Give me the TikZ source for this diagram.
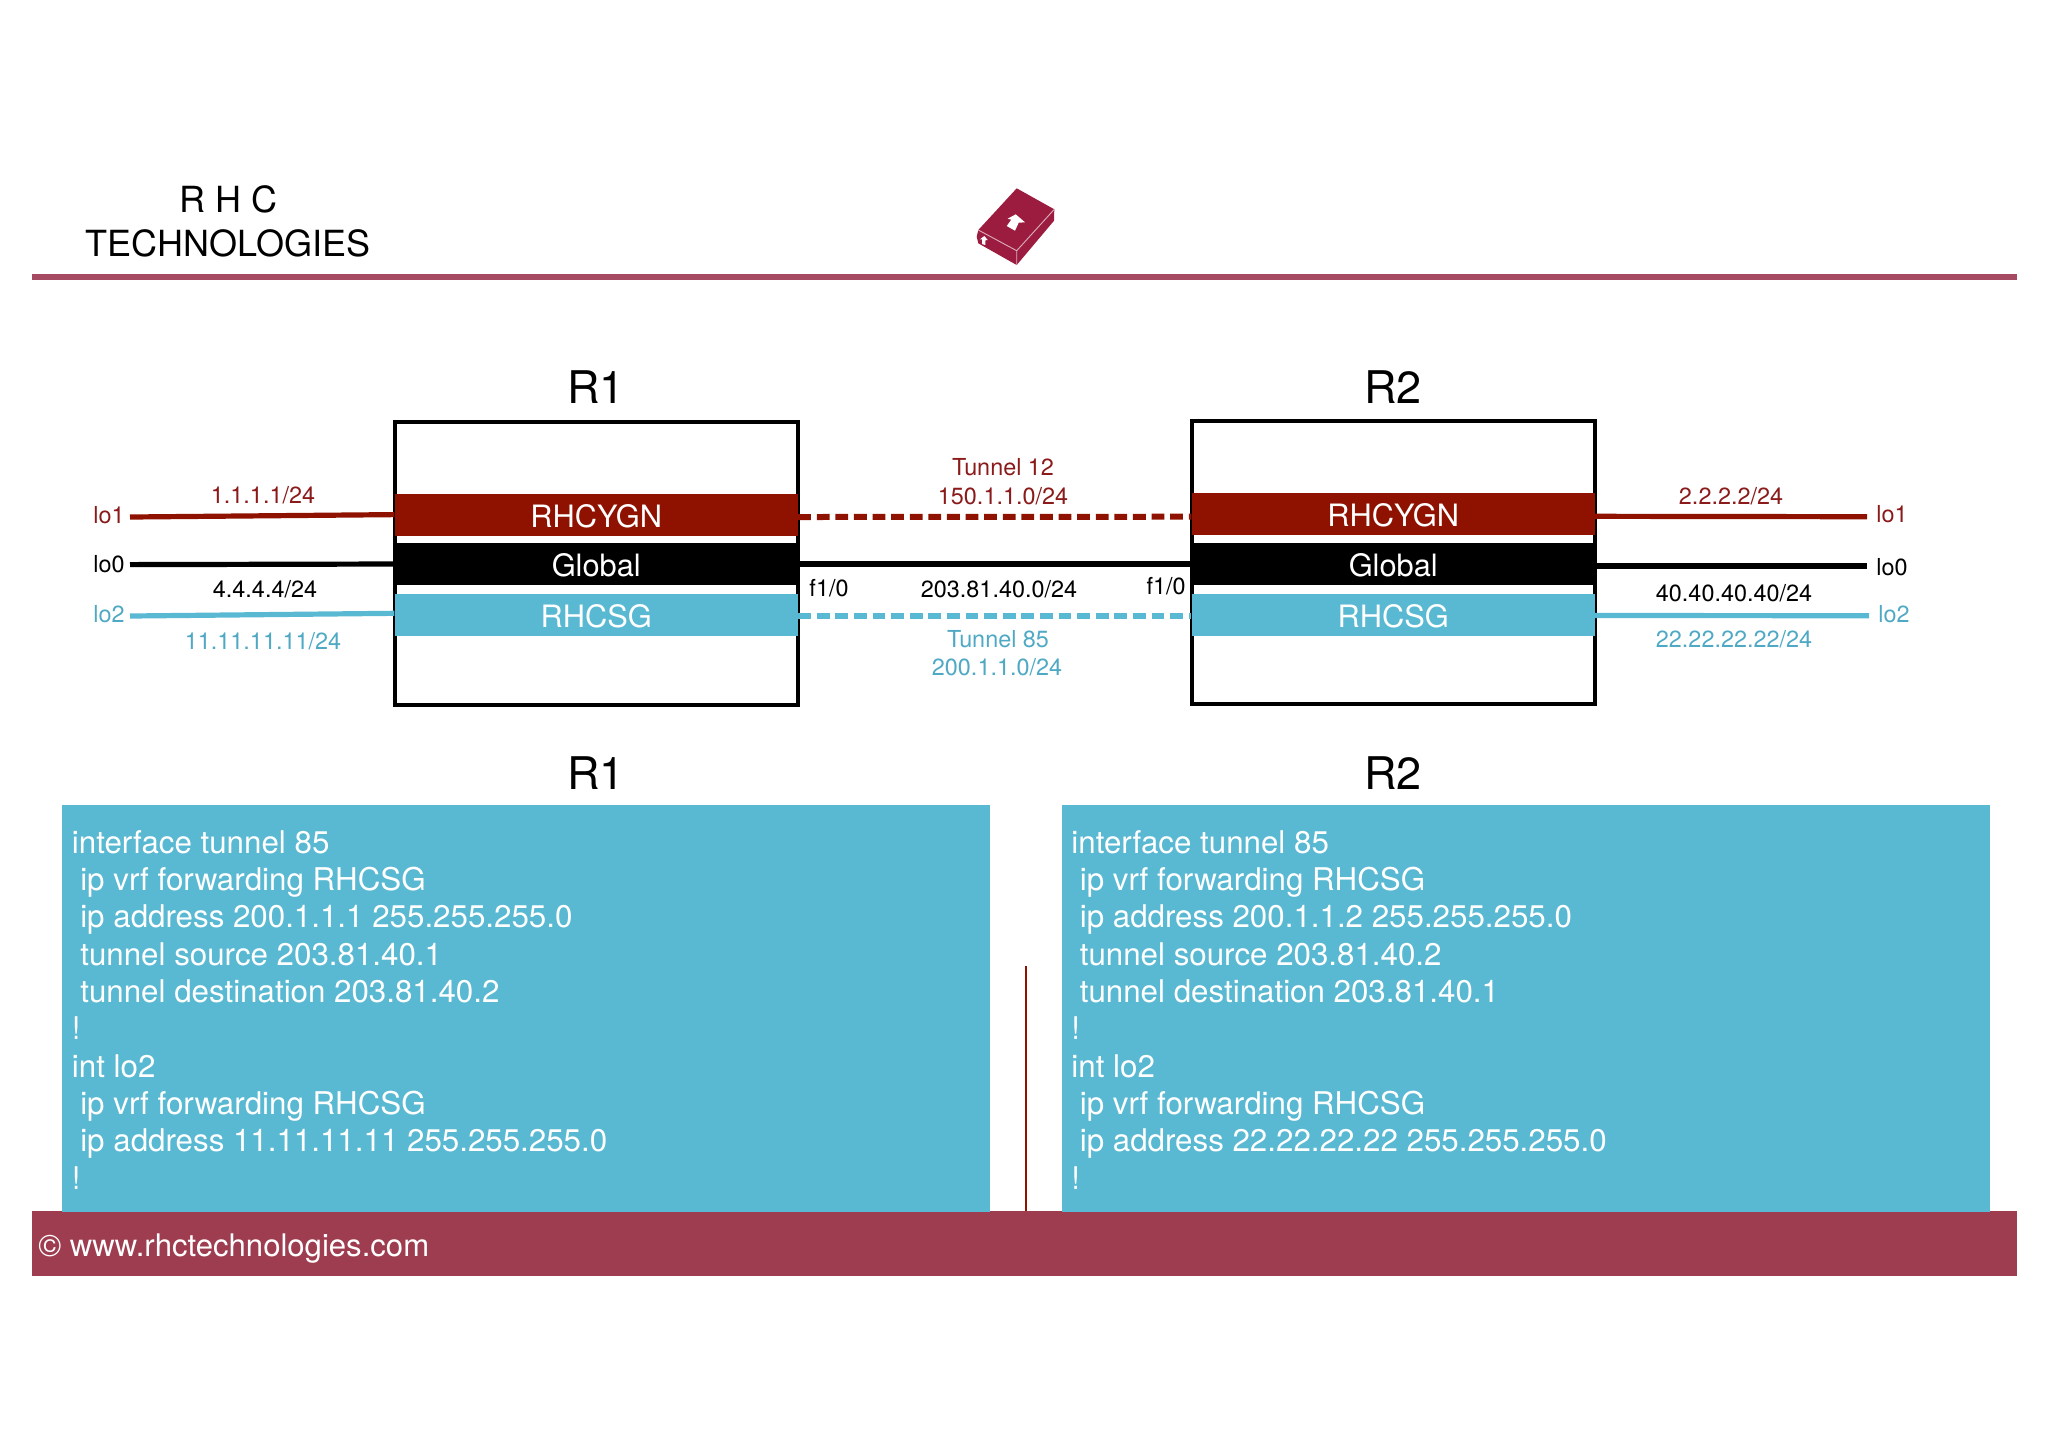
\documentclass[tikz,border=0pt]{standalone}
\usepackage{fontspec}
\setmainfont{TeX Gyre Heros}
\definecolor{wine}{HTML}{A54A62}
\definecolor{foot}{HTML}{9E3D50}
\definecolor{cyg}{HTML}{8F1200}
\definecolor{cygtxt}{HTML}{8B1A1A}
\definecolor{csg}{HTML}{5AB9D2}
\definecolor{csgtxt}{HTML}{4FA9C4}
\definecolor{book}{HTML}{9B1C3F}
\newcommand{\px}[1]{\fontsize{#1}{#1}\selectfont}
\tikzset{
  x=0.5pt,y=-0.5pt,
  routerbox/.style={draw=black,line width=2pt,fill=white,minimum width=201.5pt,minimum height=141.5pt,inner sep=0,outer sep=0,anchor=north west},
  band/.style={fill=#1,text=white,minimum width=201.5pt,minimum height=21pt,inner sep=0,text height=12.5pt,text depth=0pt,font=\px{15.4}},
  lab/.style={inner sep=0,anchor=base,font=\px{11.7},text=black},
  redlab/.style={lab,text=cygtxt},
  bluelab/.style={lab,text=csgtxt},
  title/.style={inner sep=0,anchor=base,font=\px{22.5},text=black},
  panel/.style={fill=csg,inner sep=0,anchor=north west,minimum width=464pt,minimum height=203.5pt},
  paneltext/.style={inner sep=0,anchor=base west,align=left,text=white,font=\fontsize{15.65}{18.65}\selectfont},
  link/.style={line width=2.6pt},
  dashlink/.style={line width=3pt,dash pattern=on 6.4pt off 2.9pt},
}
\begin{document}
\begin{tikzpicture}
\useasboundingbox (0,0) rectangle (2048,1448);
% header
\node[inner sep=0,anchor=base,font=\px{18}] (h1) at (228,212.5) {R H C};
\node[inner sep=0,anchor=base,font=\px{18}] (h2) at (228,256.5) {TECHNOLOGIES};
\draw[wine,line width=2.6pt] (32,277) coordinate (hl) -- (2017,277) coordinate (hr);
% book
\fill[book] (1016.7,188.3) -- (1054.3,209.3) -- (1054,220.7) -- (1016.7,265) -- (978.3,243.3) -- (976.7,236.7) -- (978.3,230) -- cycle;
\draw[white!65!book,line width=.45pt] (978.3,230) -- (1016.7,250.7) -- (1054.3,209.3) (1016.7,250.7) -- (1016.7,265);
\fill[white] (1015.7,214.3) -- (1025,222.3) -- (1018.7,222.7) -- (1015,230.7) -- (1006.7,226) -- (1011.3,219.7) -- (1007.7,218.7) -- cycle;
\fill[white] (984.3,236) -- (987.7,240) -- (985.3,240.3) -- (985.3,245) -- (982,244) -- (982,239.3) -- (980,239.3) -- cycle;
% routers
\node[routerbox] (r1) at (395,421.5) {};
\node[routerbox] (r2) at (1191.5,420.5) {};
\node[band=cyg] (r1y) at (596.25,514.6) {RHCYGN};
\node[band=black] (r1g) at (596.25,564) {Global};
\node[band=csg] (r1s) at (596.25,615.3) {RHCSG};
\node[band=cyg] (r2y) at (1393.25,514.3) {RHCYGN};
\node[band=black] (r2g) at (1393.25,564) {Global};
\node[band=csg] (r2s) at (1393.25,614.5) {RHCSG};
% free ends
\coordinate (l1) at (130,517);
\coordinate (l0) at (130,564.6);
\coordinate (l2) at (130,616);
\coordinate (e1) at (1867,516.7);
\coordinate (e0) at (1867,566);
\coordinate (e2) at (1869,615.7);
% connectors
\draw[link,cyg] (l1) -- (r1y.west);
\draw[link,black] (l0) -- (r1g.west);
\draw[link,csg] (l2) -- ([yshift=1pt]r1s.west);
\draw[link,cyg] ([yshift=-1pt]r2y.east) -- (e1);
\draw[link,black] ([yshift=-1pt]r2g.east) -- (e0);
\draw[link,csg] ([yshift=-.5pt]r2s.east) -- (e2);
\draw[link,black] (r1g.east) -- (r2g.west);
\draw[dashlink,cyg] ([yshift=-1.2pt]r1y.east) -- ([yshift=-1.2pt]r2y.west);
\draw[dashlink,csg] ([yshift=-.5pt]r1s.east) -- ([yshift=-.9pt]r2s.west);
% titles
\node[title] (t1) at (596,403) {R1};
\node[title] (t2) at (1393,403) {R2};
\node[title] (t3) at (596,789) {R1};
\node[title] (t4) at (1393,789) {R2};
% labels
\node[redlab] (a1) at (109,523) {lo1};
\node[lab] (a2) at (109,572) {lo0};
\node[bluelab] (a3) at (109,622) {lo2};
\node[redlab] (a4) at (263,503) {1.1.1.1/24};
\node[lab] (a5) at (265,597) {4.4.4.4/24};
\node[bluelab] (a6) at (263,649) {11.11.11.11/24};
\node[redlab] (b1) at (1003,475) {Tunnel 12};
\node[redlab] (b2) at (1003,504) {150.1.1.0/24};
\node[lab] (b3) at (829,596) {f1/0};
\node[lab] (b4) at (999,597) {203.81.40.0/24};
\node[lab] (b5) at (1166,594) {f1/0};
\node[bluelab] (b6) at (998,647) {Tunnel 85};
\node[bluelab] (b7) at (997,675) {200.1.1.0/24};
\node[redlab] (c1) at (1731,504) {2.2.2.2/24};
\node[redlab] (c2) at (1892,522) {lo1};
\node[lab] (c3) at (1892,575) {lo0};
\node[bluelab] (c4) at (1894,622) {lo2};
\node[lab] (c5) at (1734,601) {40.40.40.40/24};
\node[bluelab] (c6) at (1734,647) {22.22.22.22/24};
% divider and footer
\node[fill=foot,inner sep=0,anchor=north west,minimum width=992.5pt,minimum height=32.75pt] (ft) at (32,1210.5) {};
\node[inner sep=0,anchor=base west,text=white,font=\px{15.55}] (ftt) at (38,1256) {© www.rhctechnologies.com};
\coordinate (v) at (1025.5,966);
\draw[cyg,line width=1pt] (v) -- (v |- ft.north);
% panels
\node[panel] (p1) at (62,804.5) {};
\node[panel] (p2) at (1062,804.5) {};
\node[paneltext] (x1) at (71.5,1189) {interface tunnel 85\\
\hspace*{4.2pt}ip vrf forwarding RHCSG\\
\hspace*{4.2pt}ip address 200.1.1.1 255.255.255.0\\
\hspace*{4.2pt}tunnel source 203.81.40.1\\
\hspace*{4.2pt}tunnel destination 203.81.40.2\\
!\\
int lo2\\
\hspace*{4.2pt}ip vrf forwarding RHCSG\\
\hspace*{4.2pt}ip address 11.11.11.11 255.255.255.0\\
!};
\node[paneltext] (x2) at (1071,1189) {interface tunnel 85\\
\hspace*{4.2pt}ip vrf forwarding RHCSG\\
\hspace*{4.2pt}ip address 200.1.1.2 255.255.255.0\\
\hspace*{4.2pt}tunnel source 203.81.40.2\\
\hspace*{4.2pt}tunnel destination 203.81.40.1\\
!\\
int lo2\\
\hspace*{4.2pt}ip vrf forwarding RHCSG\\
\hspace*{4.2pt}ip address 22.22.22.22 255.255.255.0\\
!};
\end{tikzpicture}
\end{document}
